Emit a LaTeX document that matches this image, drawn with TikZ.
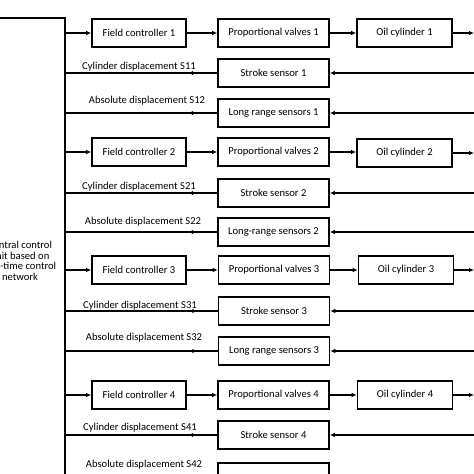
\documentclass[tikz,border=0pt]{standalone}
\usepackage{fontspec}
\setmainfont{Carlito}
\usetikzlibrary{arrows.meta,decorations.markings}
\begin{document}
\begin{tikzpicture}[x=1pt,y=-1pt,
  txt/.style={font=\fontsize{10.6}{10.5}\selectfont},
  box/.style={draw,line width=1.6pt,minimum height=28pt,inner sep=0pt,txt},
  fcbox/.style={box,minimum width=94pt},
  pvbox/.style={box,minimum width=111pt},
  ocbox/.style={box,minimum width=95pt},
  lbl/.style={txt,inner sep=0pt},
  conn/.style={line width=1.3pt},
  arr/.style={conn,-{Latex[length=5pt,width=4.5pt]}},
  midarr/.style={conn,postaction={decorate},decoration={markings,mark=at position 29pt with {\arrow{Latex[length=5pt,width=4.5pt]}}}},
]
\useasboundingbox (0,0) rectangle (474,474);
\clip (0,0) rectangle (474,474);
\fill[white] (0,0) rectangle (474,474);

% central control unit (cut by the frame)
\node[draw,line width=1.6pt,minimum width=88pt,minimum height=490pt,inner sep=0pt] (cu) at (21,263) {};
\node[txt,align=center,inner sep=0pt] (cutext) at (20,261)
  {Central control\\unit based on\\real-time control\\network};
\coordinate (edge) at (474,0);

% row 1
\node[fcbox] (fc1) at (139,33) {Field controller 1};
\node[pvbox] (pv1) at (273.5,33) {Proportional valves 1};
\node[ocbox] (oc1) at (404.5,33) {Oil cylinder 1};
\node[pvbox] (ss1) at (273.5,73) {Stroke sensor 1};
\node[pvbox] (ls1) at (273.5,113) {Long range sensors 1};
% row 2
\node[fcbox] (fc2) at (139,152) {Field controller 2};
\node[pvbox] (pv2) at (273.5,152) {Proportional valves 2};
\node[ocbox] (oc2) at (404.5,153) {Oil cylinder 2};
\node[pvbox] (ss2) at (273.5,193) {Stroke sensor 2};
\node[pvbox] (ls2) at (273.5,232) {Long-range sensors 2};
% row 3
\node[fcbox] (fc3) at (139,270) {Field controller 3};
\node[pvbox] (pv3) at (274,270) {Proportional valves 3};
\node[ocbox] (oc3) at (406,270) {Oil cylinder 3};
\node[pvbox] (ss3) at (274,311) {Stroke sensor 3};
\node[pvbox] (ls3) at (274,351) {Long range sensors 3};
% row 4
\node[fcbox] (fc4) at (139,395) {Field controller 4};
\node[pvbox] (pv4) at (273.5,395) {Proportional valves 4};
\node[ocbox] (oc4) at (405,395) {Oil cylinder 4};
\node[pvbox] (ss4) at (273.5,435) {Stroke sensor 4};
\node[pvbox] (ls4) at (273.5,477) {};

% labels
\node[lbl] (l11) at (139,67) {Cylinder displacement S11};
\node[lbl] (l12) at (147,101) {Absolute displacement S12};
\node[lbl] (l21) at (139,187) {Cylinder displacement S21};
\node[lbl] (l22) at (143,222) {Absolute displacement S22};
\node[lbl] (l31) at (140,306) {Cylinder displacement S31};
\node[lbl] (l32) at (144,338) {Absolute displacement S32};
\node[lbl] (l41) at (140,428) {Cylinder displacement S41};
\node[lbl] (l42) at (144,465) {Absolute displacement S42};

% forward chains
\foreach \i in {1,2,3,4}{
  \draw[arr] (fc\i.west -| cu.east) -- (fc\i.west);
  \draw[arr] (fc\i) -- (pv\i);
  \draw[arr] (pv\i.east) -- (oc\i.west |- pv\i.east);
  \draw[arr] (oc\i.east) -- (oc\i.east -| edge);
}
% feedback
\foreach \n in {ss1,ls1,ss2,ls2,ss3,ls3,ss4}{
  \draw[arr] (\n.east -| edge) -- (\n.east);
  \draw[midarr] (\n.west) -- (\n.west -| cu.east);
}
\end{tikzpicture}
\end{document}
